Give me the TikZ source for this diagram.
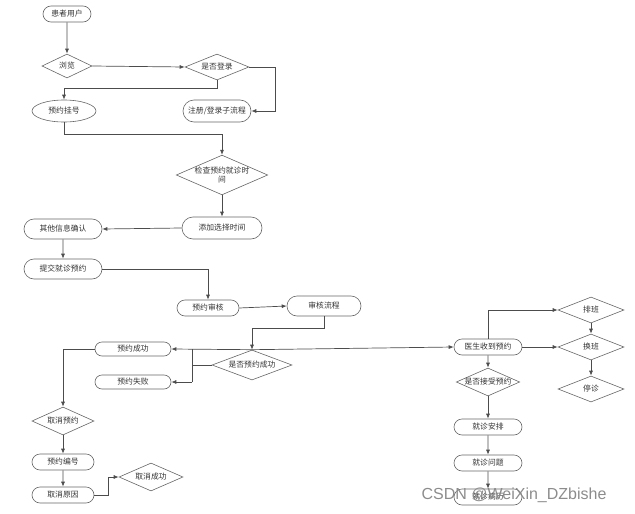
\documentclass[tikz,border=0pt]{standalone}
\usepackage{fontspec}
\setmainfont{Noto Sans CJK SC}
\newfontfamily\wmfont{Liberation Sans}
\usetikzlibrary{shapes.geometric,shapes.misc,arrows.meta}
\begin{document}
\begin{tikzpicture}[x=1pt,y=-1pt,
  every node/.style={font=\fontsize{7.8}{8.8}\selectfont, text=black!80, inner sep=1pt, draw=black!60, line width=0.6pt},
  rbox/.style={rounded rectangle, minimum width=#1, minimum height=16pt},
  rbox/.default=70pt,
  dia/.style={diamond, aspect=2.3, minimum width=#1, minimum height=26pt, align=center, inner sep=0pt},
  dia/.default=64pt,
  conn/.style={draw=black!70, line width=0.7pt, -{Latex[length=5pt,width=4pt]}},
  line/.style={draw=black!70, line width=0.7pt}]
\useasboundingbox (0,0) rectangle (635,514);
\node[rbox=50pt] (user) at (67,14) {患者用户};
\node[dia=50pt, minimum height=24pt] (browse) at (67,66) {浏览};
\node[dia=64pt] (login) at (217,67) {是否登录};
\node[ellipse, minimum width=64pt, minimum height=22pt] (reg) at (64,111) {预约挂号};
\node[rbox=70pt, minimum height=22pt] (sub) at (217,111) {注册/登录子流程};
\node[dia=72pt, minimum height=38pt] (check) at (222,175) {检查预约就诊时\\间};
\node[rbox=82pt, minimum height=22pt] (add) at (222,228) {添加选择时间};
\node[rbox=80pt, minimum height=20pt] (other) at (63,229) {其他信息确认};
\node[rbox=80pt, minimum height=20pt] (submit) at (63,269) {提交就诊预约};
\node[rbox=64pt] (audit) at (208,308) {预约审核};
\node[rbox=76pt, minimum height=20pt] (flow) at (324,306) {审核流程};
\node[dia=80pt, minimum height=30pt] (succq) at (252,365) {是否预约成功};
\node[rbox=78pt, minimum height=14pt] (succ) at (133,349) {预约成功};
\node[rbox=78pt, minimum height=14pt] (fail) at (133,382) {预约失败};
\node[dia=62pt, minimum height=28pt] (cancel) at (63,421) {取消预约};
\node[rbox=64pt] (num) at (63,462) {预约编号};
\node[rbox=64pt] (reason) at (63,495) {取消原因};
\node[dia=64pt, minimum height=28pt] (csucc) at (151,477) {取消成功};
\node[rbox=70pt] (doc) at (488,347) {医生收到预约};
\node[dia=58pt, minimum height=28pt] (acc) at (488,382) {是否接受预约};
\node[rbox=70pt] (arr) at (488,427) {就诊安排};
\node[rbox=70pt] (ques) at (488,463) {就诊问题};
\node[rbox=70pt] (rec) at (488,497) {就诊病历};
\node[dia=66pt] (sched) at (591,310) {排班};
\node[dia=66pt] (swap) at (591,347) {换班};
\node[dia=66pt] (stop) at (591,389) {停诊};
\node[draw=none, text=black!45, font=\wmfont\fontsize{16}{17}\selectfont] (wm) at (514,495) {CSDN @WeiXin\_DZbishe};

\draw[conn] (user) -- (browse);
\draw[conn] (browse.east) -- (login.west);
\draw[conn] (login.south) |- (64,88) -- (reg.north);
\draw[conn] (login.east) -- (275,67) |- (sub.east);
\draw[conn] (reg.south) |- (222,134) -- (check.north);
\draw[conn] (check) -- (add);
\draw[conn] (add.west) -- (other.east);
\draw[conn] (other) -- (submit);
\draw[conn] (submit.east) -| (audit.north);
\draw[conn] (audit.east) -- (flow.west);
\draw[conn] (flow.south) |- (252,328) -- (succq.north);
\draw[conn] (succq.north) -- (succ.east);
\draw[conn] (succq.north) -- (doc.west);
\draw[line] (succq.west) -- (192,365);
\draw[line] (192,349) -- (192,382);
\draw[conn] (192,382) -- (fail.east);
\draw[conn] (succ.west) -| (cancel.north);
\draw[conn] (cancel) -- (num);
\draw[conn] (num) -- (reason);
\draw[conn] (reason.east) -- (108,495) |- (csucc.west);
\draw[conn] (doc.north) |- (sched.west);
\draw[conn] (doc.east) -- (swap.west);
\draw[conn] (sched) -- (swap);
\draw[conn] (swap) -- (stop);
\draw[conn] (doc) -- (acc);
\draw[conn] (acc) -- (arr);
\draw[conn] (arr) -- (ques);
\draw[conn] (ques) -- (rec);
\end{tikzpicture}
\end{document}
